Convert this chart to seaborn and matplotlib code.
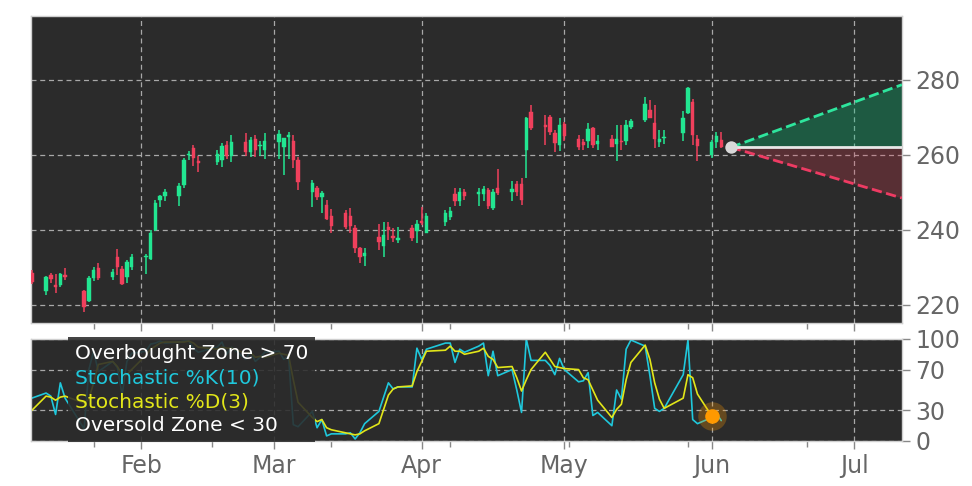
import numpy as np
import pandas as pd
import matplotlib
matplotlib.use("Agg")
import matplotlib.pyplot as plt
import matplotlib.dates as mdates
from matplotlib.lines import Line2D
import seaborn as sns

# ---- data (one row per week) ----
holidays = ["2026-01-19", "2026-02-16", "2026-04-03", "2026-05-25"]
dates = pd.bdate_range("2026-01-09", "2026-06-03", freq="C", holidays=holidays)

opens = [228.5,
         223.7, 228.0, 225.3, 225.3, 228.0,
         223.7, 221.1, 227.2, 229.9,
         227.5, 232.8, 229.6, 227.5, 230.1,
         232.8, 232.3, 240.0, 248.0, 249.1,
         249.1, 252.0, 259.9, 261.9, 258.2,
         258.0, 258.5, 262.7, 259.8,
         263.4, 260.7, 264.3, 262.3, 261.3,
         263.5, 262.0, 264.7, 263.8, 258.5,
         250.0, 251.3, 248.9, 246.7, 243.7,
         244.4, 243.6, 240.6, 235.1, 233.1,
         238.2, 235.7, 240.9, 238.4, 237.3,
         240.4, 239.6, 242.1, 239.3,
         242.0, 243.4, 249.5, 247.8, 250.0,
         249.7, 249.6, 250.7, 245.8, 251.1,
         250.0, 252.3, 252.2, 261.3, 271.4,
         268.0, 270.0, 265.8, 262.7, 268.3,
         264.3, 263.4, 263.7, 267.1, 262.8,
         264.3, 262.8, 263.7, 263.7, 267.5,
         269.3, 272.0, 268.6, 263.5, 264.5,
         265.8, 271.1, 274.2, 264.3,
         260.0, 263.4, 264.0]
highs = [229.2,
         227.7, 228.5, 228.2, 228.5, 229.8,
         223.9, 227.6, 230.1, 231.3,
         229.7, 235.0, 230.3, 232.0, 233.6,
         233.6, 240.0, 248.0, 249.3, 251.0,
         252.4, 259.2, 261.0, 262.7, 259.6,
         261.3, 263.1, 263.6, 265.3,
         265.9, 264.8, 265.3, 263.7, 265.9,
         266.7, 264.6, 266.2, 265.3, 259.3,
         253.3, 251.7, 250.4, 248.0, 245.5,
         245.2, 245.8, 241.3, 235.5, 235.1,
         241.5, 242.0, 242.2, 240.4, 240.9,
         241.3, 242.7, 246.1, 244.4,
         245.2, 246.1, 251.3, 251.2, 251.0,
         251.1, 251.7, 251.3, 250.8, 256.2,
         253.1, 253.1, 253.8, 270.0, 273.3,
         270.7, 270.7, 266.5, 269.9, 268.7,
         265.3, 264.2, 268.4, 267.5, 265.3,
         265.3, 268.0, 268.0, 269.3, 269.6,
         275.3, 274.7, 273.3, 266.7, 266.7,
         271.6, 278.0, 275.0, 265.3,
         264.0, 266.0, 266.0]
lows = [225.5,
        222.7, 225.8, 223.1, 224.9, 226.7,
        218.1, 220.9, 226.5, 226.7,
        226.7, 228.0, 225.3, 225.9, 229.3,
        228.3, 232.0, 239.6, 246.0, 247.7,
        246.4, 251.2, 258.5, 257.1, 255.3,
        257.3, 256.7, 258.9, 258.0,
        259.8, 259.5, 259.3, 259.7, 258.9,
        258.9, 254.7, 258.9, 256.4, 250.7,
        246.0, 248.0, 244.4, 242.7, 239.1,
        240.2, 239.1, 233.8, 231.3, 230.4,
        234.6, 232.9, 237.3, 236.8, 236.6,
        237.0, 236.6, 241.2, 239.1,
        241.0, 242.6, 246.4, 246.4, 248.0,
        246.4, 247.8, 245.7, 245.3, 249.3,
        247.7, 249.0, 246.7, 253.8, 266.5,
        262.7, 265.3, 260.7, 261.0, 263.7,
        261.2, 261.2, 261.8, 261.8, 261.2,
        262.0, 258.3, 261.2, 262.5, 266.9,
        268.7, 269.8, 261.9, 262.0, 263.0,
        263.7, 270.8, 262.7, 258.3,
        259.2, 261.7, 261.8]
closes = [226.1,
          227.5, 227.0, 224.8, 228.3, 227.5,
          219.5, 227.2, 229.3, 227.2,
          228.8, 230.1, 225.6, 231.5, 232.8,
          233.1, 239.2, 247.2, 249.1, 250.1,
          251.7, 258.7, 260.3, 259.2, 257.9,
          260.3, 262.4, 259.8, 263.4,
          260.7, 264.0, 261.3, 262.6, 263.7,
          265.6, 264.4, 265.4, 258.5, 252.7,
          252.4, 248.7, 249.8, 242.8, 241.1,
          240.9, 241.1, 235.1, 232.9, 233.9,
          236.9, 238.7, 240.0, 237.8, 237.9,
          237.8, 241.6, 241.9, 243.7,
          244.6, 245.1, 247.8, 250.0, 249.1,
          250.1, 251.0, 246.4, 250.0, 249.8,
          250.9, 250.0, 248.0, 269.9, 267.1,
          267.3, 266.2, 263.1, 268.0, 264.9,
          262.0, 262.5, 266.9, 262.7, 263.6,
          262.0, 264.3, 263.4, 268.0, 269.1,
          273.6, 269.8, 264.3, 264.2, 264.6,
          269.8, 277.8, 265.3, 262.4,
          263.4, 264.9, 262.0]

stoch_k = [42,
           47, 44, 26, 57, 42,
           12, 70, 88, 68,
           78, 72, 45, 78, 86,
           88, 95, 96, 98, 96,
           97, 98, 98, 91, 87,
           92, 97, 85, 92,
           80, 88, 78, 82, 87,
           88, 80, 83, 16, 14,
           29, 13, 21, 5, 7,
           7, 8, 2, 8, 17,
           29, 43, 57, 51, 53,
           53, 91, 80, 90,
           96, 96, 77, 90, 87,
           93, 96, 64, 88, 64,
           70, 50, 28, 100, 79,
           79, 74, 65, 81, 70,
           58, 59, 67, 25, 28,
           15, 50, 41, 90, 99,
           93, 64, 32, 29, 32,
           65, 99, 21, 17,
           23, 27, 20]
stoch_d = [30,
           44, 43, 40, 43, 44,
           37, 41, 57, 75,
           78, 73, 65, 65, 70,
           84, 90, 93, 96, 97,
           97, 97, 98, 96, 92,
           90, 92, 91, 91,
           86, 87, 82, 83, 82,
           86, 85, 84, 60, 38,
           23, 19, 21, 13, 11,
           8, 7, 6, 7, 10,
           17, 31, 45, 51, 53,
           54, 68, 78, 88,
           89, 93, 88, 88, 85,
           88, 91, 83, 80, 72,
           73, 62, 49, 60, 70,
           87, 80, 73, 72, 71,
           70, 62, 60, 50, 40,
           23, 31, 36, 60, 77,
           94, 80, 57, 41, 32,
           42, 65, 62, 46,
           24.5, np.nan, np.nan]

forecast_dates = pd.to_datetime(["2026-06-05", "2026-07-11"])
forecast_mid = [262.0, 262.0]
forecast_upper = [262.0, 278.7]
forecast_lower = [262.0, 248.5]

signal_date = pd.Timestamp("2026-06-01")
signal_value = 24.5

minor_tick_dates = pd.to_datetime(["2026-01-22", "2026-02-16", "2026-03-13", "2026-04-07",
                                   "2026-05-02", "2026-05-27", "2026-06-21"])

df = pd.DataFrame({"date": dates, "open": opens, "high": highs, "low": lows,
                   "close": closes, "k": stoch_k, "d": stoch_d})

# ---- style ----
BG = "#2b2b2b"
GREEN = "#22e691"
RED = "#f0405c"
sns.set_style("dark", {"axes.facecolor": BG, "axes.edgecolor": "#cfcfcf",
                       "figure.facecolor": "white"})

fig = plt.figure(figsize=(9.72, 4.86), dpi=100)
ax1 = fig.add_axes([0.0319, 0.3354, 0.896, 0.6317])
ax2 = fig.add_axes([0.0319, 0.0926, 0.896, 0.2099], sharex=ax1)

# ---- candles ----
up = df["close"] >= df["open"]
colors = np.where(up, GREEN, RED)
body_low = df[["open", "close"]].min(axis=1)
body_h = (df["close"] - df["open"]).abs().clip(lower=0.35)
ax1.vlines(df["date"], df["low"], df["high"], colors=colors, lw=1.1, zorder=3)
ax1.bar(df["date"], body_h, bottom=body_low, width=0.72, color=colors,
        edgecolor=colors, linewidth=0.3, zorder=4)

# ---- projection cone ----
ax1.fill_between(forecast_dates, forecast_mid, forecast_upper, color="#00c77a", alpha=0.3, lw=0, zorder=2)
ax1.fill_between(forecast_dates, forecast_mid, forecast_lower, color="#e23b52", alpha=0.25, lw=0, zorder=2)
ax1.plot(forecast_dates, forecast_upper, ls="--", color="#2ee59d", lw=2, zorder=5)
ax1.plot(forecast_dates, forecast_lower, ls="--", color="#ee3b63", lw=2, zorder=5)
ax1.plot(forecast_dates, forecast_mid, color="#e8e8e8", lw=2, zorder=5)
ax1.scatter([forecast_dates[0]], [forecast_mid[0]], s=80, color="#d9d9d9", zorder=6, lw=0)

ax1.set_ylim(215.2, 297)
ax1.set_yticks([220, 240, 260, 280])

# ---- stochastic ----
sns.lineplot(data=df, x="date", y="k", ax=ax2, color="#1fc8dc", lw=1.2)
sns.lineplot(data=df, x="date", y="d", ax=ax2, color="#e2e619", lw=1.2)
ax2.scatter([signal_date], [signal_value], s=420, color="#ff9900", alpha=0.28, lw=0, zorder=6)
ax2.scatter([signal_date], [signal_value], s=110, color="#ff9900", lw=0, zorder=7)
ax2.set_ylim(0, 100)
ax2.set_yticks([0, 30, 70, 100])
ax2.set_xlabel("")
ax2.set_ylabel("")

handles = [Line2D([], [], ls="none") for _ in range(4)]
labels = ["Overbought Zone > 70", "Stochastic %K(10)", "Stochastic %D(3)", "Oversold Zone < 30"]
leg = ax2.legend(handles, labels, loc="upper left", bbox_to_anchor=(0.042, 1.02),
                 borderaxespad=0, handlelength=0, handletextpad=0, labelspacing=0.25,
                 borderpad=0.35, fontsize=14.5, frameon=True, facecolor=BG, framealpha=0.88,
                 edgecolor="none", fancybox=False)
leg.set_zorder(10)
for txt, c in zip(leg.get_texts(), ["white", "#1fc8dc", "#e2e619", "white"]):
    txt.set_color(c)

# ---- axes cosmetics ----
ax1.set_xlim(pd.Timestamp("2026-01-08 20:00"), pd.Timestamp("2026-07-11"))
for ax in (ax1, ax2):
    ax.yaxis.tick_right()
    ax.xaxis.set_major_locator(mdates.MonthLocator())
    ax.xaxis.set_major_formatter(mdates.DateFormatter("%b"))
    ax.xaxis.set_minor_locator(matplotlib.ticker.FixedLocator(mdates.date2num(minor_tick_dates)))
    ax.grid(True, which="major", color="#a8a8a8", ls=(0, (4, 3)), lw=0.9)
    ax.tick_params(axis="both", which="major", colors="#888888", labelcolor="#666666",
                   labelsize=17, length=6, width=1, bottom=True, right=True, left=False)
    ax.tick_params(axis="x", which="minor", colors="#888888", length=4, width=1, bottom=True)
    for s in ax.spines.values():
        s.set_color("#cfcfcf")
        s.set_linewidth(1)
ax1.tick_params(axis="x", labelbottom=False)

fig.savefig("out.png", dpi=100)
